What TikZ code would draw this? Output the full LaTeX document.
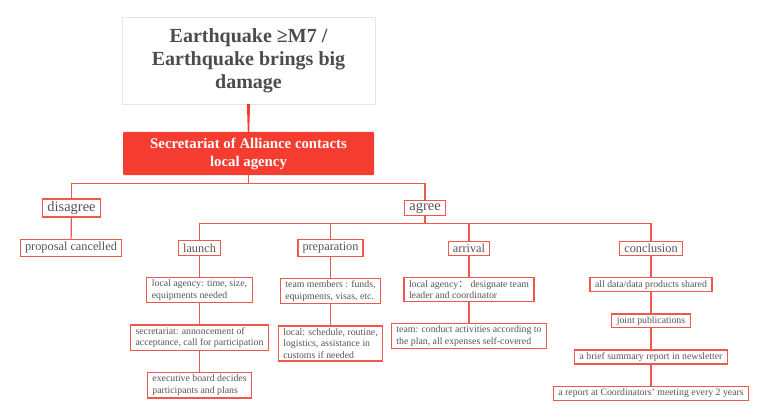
\documentclass[tikz,border=0pt]{standalone}
\usepackage{fontspec}
\setmainfont{Liberation Serif}
\newfontfamily\cjk{Noto Sans CJK SC}
\usetikzlibrary{positioning, shadows}
\definecolor{mapred}{RGB}{245,60,48}
\definecolor{linered}{RGB}{240,88,78}
\definecolor{textgrey}{RGB}{85,85,85}
\tikzstyle{rootbox} = [
    rectangle,
    minimum width=253pt,
    minimum height=87pt,
    draw=black!10,
    fill=white,
    drop shadow={opacity=0.08, shadow xshift=0.6pt, shadow yshift=-0.6pt},
    text=black!70,
    font=\fontsize{20}{23}\selectfont\bfseries,
    align=center
]
\tikzstyle{mainbox} = [
    rectangle,
    rounded corners=1pt,
    minimum width=251pt,
    minimum height=43pt,
    fill=mapred,
    text=white,
    font=\fontsize{14.8}{18}\selectfont\bfseries,
    align=center
]
\tikzstyle{choice} = [
    rectangle,
    draw=linered,
    line width=1.2pt,
    inner xsep=4.5pt,
    inner ysep=2.5pt,
    text=textgrey,
    font=\fontsize{14.5}{16}\selectfont
]
\tikzstyle{phase} = [
    rectangle,
    draw=linered,
    line width=1.2pt,
    inner xsep=4.5pt,
    inner ysep=2.8pt,
    text=textgrey,
    font=\fontsize{12.3}{14}\selectfont
]
\tikzstyle{detail} = [
    rectangle,
    draw=linered,
    line width=1.2pt,
    inner xsep=5pt,
    inner ysep=2.5pt,
    text=textgrey,
    align=left,
    font=\fontsize{9.8}{11.5}\selectfont
]
\tikzstyle{link} = [draw=linered, line width=1.2pt]

\begin{document}
\begin{tikzpicture}[x=1pt, y=-1pt, node distance=21pt]
\useasboundingbox (0,0) rectangle (768,417);

\node (quake) [rootbox] at (248.5,60.5)
{Earthquake ≥M7 /\\Earthquake brings big\\damage};

\node (contact) [mainbox] at (248.5,153.5)
{Secretariat of Alliance contacts\\local agency};

\node (disagree) [choice] at (71.5,208) {disagree};
\node (agree) [choice] at (425,208) {agree};

\node (cancel) [phase] at (71,248) {proposal cancelled};
\node (launch) [phase] at (199.5,248) {launch};
\node (preparation) [phase] at (330.5,248) {preparation};
\node (arrival) [phase] at (469,248.5) {arrival};
\node (conclusion) [phase] at (651,248.5) {conclusion};

\node (need) [detail, below=of launch]
{local agency: time, size,\\equipments needed};
\node (call) [detail, below=of need]
{secretariat: annoncement of\\acceptance, call for participation};
\node (board) [detail, below=of call]
{executive board decides\\participants and plans};

\node (members) [detail, below=of preparation]
{team members : funds,\\equipments, visas, etc.};
\node (local) [detail, below=of members]
{local: schedule, routine,\\logistics, assistance in\\customs if needed};

\node (leader) [detail, below=of arrival]
{local agency{\cjk ：}\ designate team\\leader and coordinator};
\node (team) [detail, below=of leader]
{team: conduct activities according to\\the plan, all expenses self-covered};

\node (shared) [detail, below=of conclusion] {all data/data products shared};
\node (joint) [detail, below=of shared] {joint publications};
\node (brief) [detail, below=of joint] {a brief summary report in newsletter};
\node (biennial) [detail, below=of brief]
{a report at Coordinators' meeting every 2 years};

\fill [mapred] ([xshift=-1.6pt]quake.south) -- ([xshift=1.6pt]quake.south)
    -- ([xshift=0.7pt]contact.north) -- ([xshift=-0.7pt]contact.north) -- cycle;

\draw [link] (contact.south) -- ++(0,8) -| (disagree.north);
\draw [link] (contact.south) -- ++(0,8) -| (agree.north);
\draw [link] (disagree) -- (cancel);

\draw [link] (agree.south) -- ++(0,7) -| (launch.north);
\draw [link] (agree.south) -- ++(0,7) -| (preparation.north);
\draw [link] (agree.south) -- ++(0,7) -| (arrival.north);
\draw [link] (agree.south) -- ++(0,7) -| (conclusion.north);

\draw [link] (launch) -- (need);
\draw [link] (need) -- (call);
\draw [link] (call) -- (board);
\draw [link] (preparation) -- (members);
\draw [link] (members) -- (local);
\draw [link] (arrival) -- (leader);
\draw [link] (leader) -- (team);
\draw [link] (conclusion) -- (shared);
\draw [link] (shared) -- (joint);
\draw [link] (joint) -- (brief);
\draw [link] (brief) -- (biennial);

\end{tikzpicture}
\end{document}
